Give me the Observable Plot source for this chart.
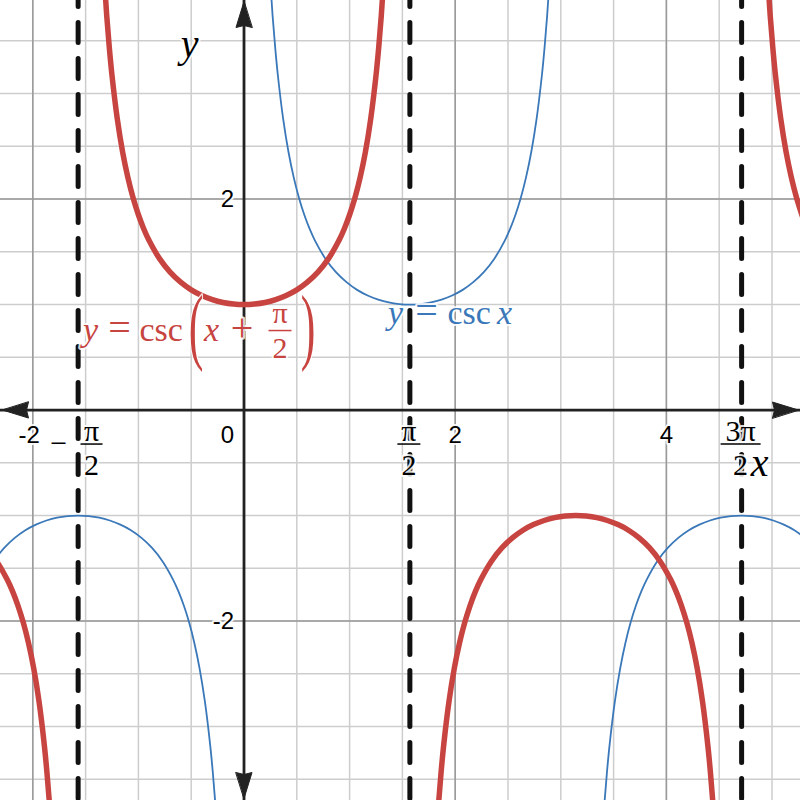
<!DOCTYPE html>
<html>
<head>
<meta charset="utf-8">
<script src="https://cdn.jsdelivr.net/npm/d3@7"></script>
<script src="https://cdn.jsdelivr.net/npm/@observablehq/plot@0.6"></script>
<style>
  html, body { margin: 0; padding: 0; background: #fff; }
</style>
</head>
<body>
<div id="chart"></div>
<script>
// ---- data ----
const xDomain = [-2.306, 5.270];
const yDomain = [-3.701, 3.882];

const xMinorGrid = [-2, -1.5, -1, -0.5, 0.5, 1, 1.5, 2, 2.5, 3, 3.5, 4, 4.5, 5];
const yMinorGrid = [-3.5, -3, -2.5, -2, -1.5, -1, -0.5, 0.5, 1, 1.5, 2, 2.5, 3, 3.5];
const xMajorGrid = [-2, 2, 4];
const yMajorGrid = [-2, 2];

const xTickLabels = [-2, 0, 2, 4];
const yTickLabels = [-2, 2];

// asymptotes x = -π/2, π/2, 3π/2
const asymptotes = [-1.5708, 1.5708, 4.7124];
const asymptoteNumerators = ["π", "π", "3π"];
const asymptoteDenominators = ["2", "2", "2"];
const asymptoteSigns = ["−", "", ""];

// branch profile: distance from a branch vertex -> |y|
const branchOffsets = [0, 0.1, 0.2, 0.3, 0.4, 0.5, 0.6, 0.7, 0.8, 0.9, 0.95, 1.0, 1.05, 1.1, 1.15, 1.2, 1.25, 1.275, 1.3, 1.325, 1.35];
const branchHeights = [1, 1.005, 1.020, 1.047, 1.086, 1.139, 1.212, 1.307, 1.435, 1.609, 1.719, 1.851, 2.010, 2.205, 2.448, 2.760, 3.171, 3.430, 3.738, 4.110, 4.566];

// y = csc x : branch vertices and their sign
const blueVertices = [-1.5708, 1.5708, 4.7124];
const blueSigns = [-1, 1, -1];
// y = csc(x + π/2)
const redVertices = [-3.1416, 0, 3.1416, 6.2832];
const redSigns = [-1, 1, -1, 1];

const BLUE = "#3a78b9";
const RED = "#c74440";
const SERIF = "'Liberation Serif', 'Times New Roman', serif";
const SANS = "'Liberation Sans', Arial, sans-serif";

function branchRows(vertices, signs, name) {
  const rows = [];
  vertices.forEach((v, b) => {
    for (let i = branchOffsets.length - 1; i > 0; i--)
      rows.push({x: v - branchOffsets[i], y: signs[b] * branchHeights[i], branch: name + b});
    for (let i = 0; i < branchOffsets.length; i++)
      rows.push({x: v + branchOffsets[i], y: signs[b] * branchHeights[i], branch: name + b});
  });
  return rows;
}
const blueRows = branchRows(blueVertices, blueSigns, "b");
const redRows = branchRows(redVertices, redSigns, "r");

// custom shapes for Plot.vector
const arrowHead = {draw(ctx, l) { ctx.moveTo(0, -l); ctx.lineTo(-8, 0); ctx.lineTo(0, -2); ctx.lineTo(8, 0); ctx.closePath(); }};
const segment = {draw(ctx, l) { ctx.moveTo(0, 0); ctx.lineTo(0, -l); }};

const halo = {stroke: "white", strokeWidth: 4, strokeOpacity: 0.85};

// layout of the fraction labels under each asymptote (px)
const fracLayout = [{dx: 13.4, bar: 22}, {dx: -1, bar: 23}, {dx: -1, bar: 40}];

const fractionMarks = asymptotes.flatMap((a, i) => {
  const L = fracLayout[i];
  const marks = [
    Plot.text([a], {x: d => d, y: 0, text: [asymptoteNumerators[i]], dx: L.dx, dy: 30.5, lineAnchor: "bottom", textAnchor: "middle", fontFamily: SERIF, fontSize: 30, fill: "#000", ...halo}),
    Plot.vector([a], {x: d => d, y: 0, dx: L.dx, dy: 34, length: L.bar, rotate: 90, anchor: "middle", shape: segment, stroke: "#000", strokeWidth: 1.5, strokeLinecap: "butt"}),
    Plot.text([a], {x: d => d, y: 0, text: [asymptoteDenominators[i]], dx: L.dx, dy: 64.5, lineAnchor: "bottom", textAnchor: "middle", fontFamily: SERIF, fontSize: 30, fill: "#000", ...halo})
  ];
  if (asymptoteSigns[i]) marks.push(
    Plot.text([a], {x: d => d, y: 0, text: [asymptoteSigns[i]], dx: -19.5, dy: 43, lineAnchor: "bottom", textAnchor: "middle", fontFamily: SERIF, fontSize: 30, fill: "#000"})
  );
  return marks;
});

const svg = Plot.plot({
  width: 800,
  height: 800,
  margin: 0,
  style: {background: "white"},
  x: {domain: xDomain, axis: null},
  y: {domain: yDomain, axis: null},
  marks: [
    // grid
    Plot.ruleX(xMinorGrid, {stroke: "#cdcdcd", strokeWidth: 1.5}),
    Plot.ruleY(yMinorGrid, {stroke: "#cdcdcd", strokeWidth: 1.5}),
    Plot.ruleX(xMajorGrid, {stroke: "#999", strokeWidth: 1.5}),
    Plot.ruleY(yMajorGrid, {stroke: "#999", strokeWidth: 1.5}),
    // axes
    Plot.ruleY([0], {stroke: "#222", strokeWidth: 2.8}),
    Plot.ruleX([0], {stroke: "#222", strokeWidth: 2.8}),
    Plot.vector([0], {x: 0, frameAnchor: "top", dy: 1, length: 26, rotate: 0, anchor: "end", shape: arrowHead, fill: "#222", stroke: "#222", strokeWidth: 1}),
    Plot.vector([0], {x: 0, frameAnchor: "bottom", dy: -2, length: 26, rotate: 180, anchor: "end", shape: arrowHead, fill: "#222", stroke: "#222", strokeWidth: 1}),
    Plot.vector([0], {y: 0, frameAnchor: "left", dx: 2, length: 26, rotate: -90, anchor: "end", shape: arrowHead, fill: "#222", stroke: "#222", strokeWidth: 1}),
    Plot.vector([0], {y: 0, frameAnchor: "right", dx: -2, length: 26, rotate: 90, anchor: "end", shape: arrowHead, fill: "#222", stroke: "#222", strokeWidth: 1}),
    // curves
    Plot.line(blueRows, {x: "x", y: "y", z: "branch", stroke: BLUE, strokeWidth: 1.8, curve: "catmull-rom", clip: true}),
    Plot.line(redRows, {x: "x", y: "y", z: "branch", stroke: RED, strokeWidth: 5.5, curve: "catmull-rom", clip: true}),
    // asymptotes
    Plot.ruleX(asymptotes, {stroke: "#111", strokeWidth: 5, strokeDasharray: "20,16", strokeDashoffset: 13.5, strokeLinecap: "round"}),
    // tick labels
    Plot.text(xTickLabels.filter(d => d > 0), {x: d => d, y: 0, text: d => String(d), dy: 33, lineAnchor: "bottom", textAnchor: "middle", fontFamily: SANS, fontSize: 24, fill: "#000", ...halo}),
    Plot.text(xTickLabels.filter(d => d < 0), {x: d => d, y: 0, text: d => "-" + Math.abs(d), dx: 7, dy: 33, lineAnchor: "bottom", textAnchor: "end", fontFamily: SANS, fontSize: 24, fill: "#000", ...halo}),
    Plot.text(xTickLabels.filter(d => d === 0), {x: d => d, y: 0, text: d => String(d), dx: -10, dy: 33, lineAnchor: "bottom", textAnchor: "end", fontFamily: SANS, fontSize: 24, fill: "#000", ...halo}),
    Plot.text(yTickLabels, {x: 0, y: d => d, text: d => (d < 0 ? "-" : "") + Math.abs(d), dx: -10, textAnchor: "end", lineAnchor: "middle", fontFamily: SANS, fontSize: 24, fill: "#000", ...halo}),
    // asymptote labels (fractions)
    ...fractionMarks,
    // axis names
    Plot.text(["x"], {frameAnchor: "right", y: 0, text: d => d, dx: -41, dy: 65.5, lineAnchor: "bottom", textAnchor: "middle", fontFamily: SERIF, fontStyle: "italic", fontSize: 40, fill: "#000", ...halo}),
    Plot.text(["y"], {x: 0, frameAnchor: "top", text: d => d, dx: -54.5, dy: 56, lineAnchor: "bottom", textAnchor: "middle", fontFamily: SERIF, fontStyle: "italic", fontSize: 40, fill: "#000", ...halo}),
    // blue curve label: y = csc x (anchored at vertex π/2, 1)
    Plot.text(["y"], {x: blueVertices[1], y: 1, text: d => d, dx: -22, dy: 19.5, lineAnchor: "bottom", textAnchor: "start", fontFamily: SERIF, fontStyle: "italic", fontSize: 34, fill: BLUE, ...halo}),
    Plot.text(["="], {x: blueVertices[1], y: 1, text: d => d, dx: 16.6, dy: 19.5, lineAnchor: "bottom", textAnchor: "middle", fontFamily: SERIF, fontSize: 40, fill: BLUE, ...halo}),
    Plot.text(["csc"], {x: blueVertices[1], y: 1, text: d => d, dx: 37.5, dy: 19.5, lineAnchor: "bottom", textAnchor: "start", fontFamily: SERIF, fontSize: 34, fill: BLUE, ...halo}),
    Plot.text(["x"], {x: blueVertices[1], y: 1, text: d => d, dx: 87, dy: 19.5, lineAnchor: "bottom", textAnchor: "start", fontFamily: SERIF, fontStyle: "italic", fontSize: 34, fill: BLUE, ...halo}),
    // red curve label: y = csc(x + π/2) (anchored at vertex 0, 1)
    Plot.text(["y"], {x: redVertices[1], y: 1, text: d => d, dx: -161, dy: 36, lineAnchor: "bottom", textAnchor: "start", fontFamily: SERIF, fontStyle: "italic", fontSize: 34, fill: RED, ...halo}),
    Plot.text(["="], {x: redVertices[1], y: 1, text: d => d, dx: -124.5, dy: 36, lineAnchor: "bottom", textAnchor: "middle", fontFamily: SERIF, fontSize: 40, fill: RED, ...halo}),
    Plot.text(["csc"], {x: redVertices[1], y: 1, text: d => d, dx: -104.5, dy: 36, lineAnchor: "bottom", textAnchor: "start", fontFamily: SERIF, fontSize: 34, fill: RED, ...halo}),
    Plot.text(["("], {x: redVertices[1], y: 1, text: d => d, dx: -48, dy: 49, lineAnchor: "bottom", textAnchor: "middle", fontFamily: SERIF, fontSize: 44, fill: RED, stroke: "white", strokeWidth: 2, strokeOpacity: 0.85}),
    Plot.text(["x"], {x: redVertices[1], y: 1, text: d => d, dx: -40, dy: 36, lineAnchor: "bottom", textAnchor: "start", fontFamily: SERIF, fontStyle: "italic", fontSize: 34, fill: RED, ...halo}),
    Plot.text(["+"], {x: redVertices[1], y: 1, text: d => d, dx: -2, dy: 36, lineAnchor: "bottom", textAnchor: "middle", fontFamily: SERIF, fontSize: 40, fill: RED, ...halo}),
    Plot.text(["π"], {x: redVertices[1], y: 1, text: d => d, dx: 36, dy: 18, lineAnchor: "bottom", textAnchor: "middle", fontFamily: SERIF, fontSize: 30, fill: RED, ...halo}),
    Plot.vector([0], {x: redVertices[1], y: 1, dx: 36, dy: 26, length: 23, rotate: 90, anchor: "middle", shape: segment, stroke: RED, strokeWidth: 1.5, strokeLinecap: "butt"}),
    Plot.text(["2"], {x: redVertices[1], y: 1, text: d => d, dx: 36, dy: 53, lineAnchor: "bottom", textAnchor: "middle", fontFamily: SERIF, fontSize: 30, fill: RED, ...halo}),
    Plot.text([")"], {x: redVertices[1], y: 1, text: d => d, dx: 64, dy: 49, lineAnchor: "bottom", textAnchor: "middle", fontFamily: SERIF, fontSize: 44, fill: RED, stroke: "white", strokeWidth: 2, strokeOpacity: 0.85})
  ]
});

// stretch the parentheses vertically so they span the fraction
d3.select(svg).selectAll("text")
  .filter(function() { return this.textContent === "(" || this.textContent === ")"; })
  .each(function() {
    const t = this.getAttribute("transform") || "";
    const x = this.getAttribute("x"), y = this.getAttribute("y");
    let base = t;
    if (x != null || y != null) {
      base = `${t} translate(${x || 0},${y || 0})`;
      this.removeAttribute("x"); this.removeAttribute("y");
    }
    this.setAttribute("transform", base + " scale(1,1.9)");
  });

document.getElementById("chart").appendChild(svg);
</script>
</body>
</html>
